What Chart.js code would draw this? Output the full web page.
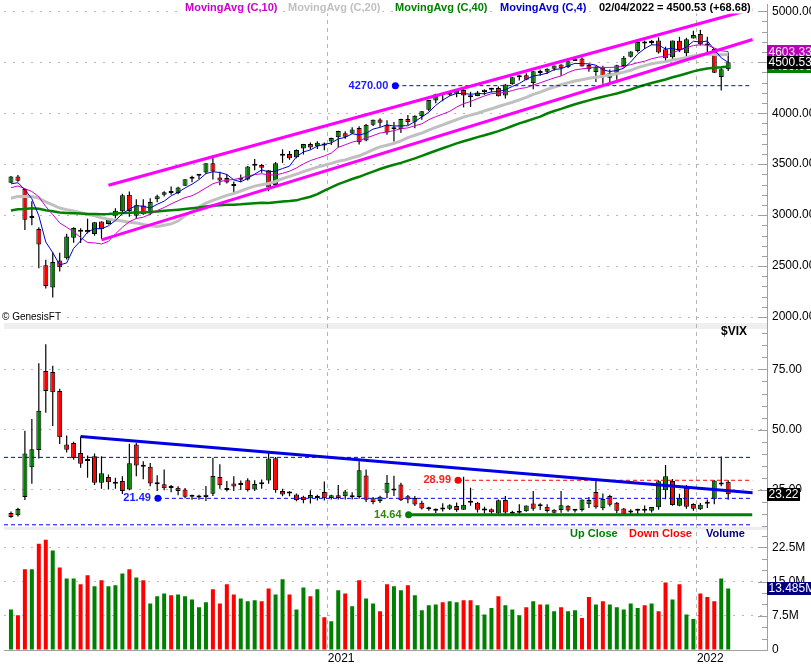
<!DOCTYPE html>
<html>
<head>
<meta charset="utf-8">
<script src="https://cdn.jsdelivr.net/npm/chart.js@4.4.0/dist/chart.umd.min.js"></script>
<style>
  html, body { margin: 0; padding: 0; background: #fff; }
  #wrap { position: relative; width: 811px; height: 664px; }
</style>
</head>
<body>
<div id="wrap"><canvas id="c" width="811" height="664"></canvas></div>
<script>
// weekly bars, week ending 02/14/2020 .. 02/04/2022 (index 0..103)
const spxOpen = [3318,3380,3257,2974,2863,2508,2290,2555,2578,2777,2845,2854,2815,2938,2914,2993,3038,3199,2993,3094,
  3018,3155,3201,3225,3218,3289,3356,3386,3419,3508,3369,3364,3285,3350,3349,3500,3493,3441,3296,3583,
  3600,3567,3653,3698,3675,3684,3723,3764,3803,3801,3855,3731,3886,3939,3886,3842,3844,3942,3916,3969,
  4035,4125,4185,4185,4192,4228,4169,4168,4207,4230,4248,4174,4285,4353,4372,4297,4409,4406,4437,4477,
  4450,4513,4536,4474,4403,4448,4348,4385,4463,4553,4610,4702,4689,4712,4628,4548,4710,4587,4733,4778,
  4664,4632,4356,4432];
const spxHigh = [3385,3393,3260,3137,2882,2563,2637,2632,2818,2880,2871,2965,2933,2939,2968,3068,3211,3233,3155,3155,
  3165,3199,3234,3280,3279,3353,3387,3399,3509,3588,3425,3402,3329,3398,3483,3550,3502,3441,3521,3646,
  3629,3645,3699,3712,3726,3712,3760,3827,3824,3862,3871,3894,3937,3951,3932,3914,3945,3983,3979,4021,
  4130,4192,4194,4218,4238,4236,4210,4218,4234,4249,4262,4287,4356,4372,4393,4415,4429,4442,4469,4481,
  4513,4546,4549,4486,4466,4465,4429,4476,4560,4608,4718,4714,4718,4744,4652,4713,4749,4740,4808,4819,
  4749,4632,4453,4595];
const spxLow = [3315,3328,2855,2902,2478,2281,2192,2447,2566,2728,2727,2820,2798,2767,2908,2970,3026,2984,2966,3004,
  3001,3127,3184,3200,3205,3285,3323,3355,3404,3349,3293,3310,3209,3323,3339,3441,3415,3234,3280,3512,
  3543,3558,3595,3645,3648,3636,3687,3663,3749,3796,3694,3725,3875,3866,3789,3723,3805,3885,3853,3935,
  4020,4098,4118,4170,4157,4057,4061,4167,4180,4204,4164,4144,4278,4321,4322,4234,4367,4385,4417,4367,
  4444,4511,4457,4407,4306,4289,4278,4329,4448,4547,4595,4630,4672,4585,4495,4531,4600,4531,4733,4663,
  4582,4395,4222,4414];
const spxClose = [3380,3338,2954,2972,2711,2305,2541,2489,2790,2875,2837,2831,2930,2864,2955,3044,3194,3041,3098,3009,
  3130,3185,3225,3216,3271,3351,3373,3397,3508,3427,3341,3319,3298,3348,3477,3484,3465,3270,3509,3585,
  3558,3638,3699,3663,3709,3703,3756,3825,3768,3841,3714,3887,3935,3907,3811,3842,3943,3913,3975,4020,
  4129,4185,4180,4181,4233,4174,4156,4204,4230,4247,4166,4281,4352,4370,4327,4412,4395,4437,4468,4442,
  4509,4535,4459,4433,4455,4357,4391,4471,4545,4605,4698,4683,4698,4595,4538,4712,4621,4726,4766,4677,
  4663,4398,4431.85,4500.53];

const ma4 = [3307,3318,3250,3161,2994,2736,2632,2512,2531,2674,2748,2833,2868,2866,2895,2948,3014,3059,3094,3086,
  3070,3106,3137,3189,3224,3266,3303,3348,3407,3426,3418,3399,3346,3327,3361,3402,3444,3424,3432,3457,
  3481,3573,3620,3640,3677,3694,3708,3748,3763,3798,3787,3803,3844,3861,3885,3874,3876,3877,3918,3963,
  4009,4077,4129,4169,4195,4192,4186,4192,4191,4209,4212,4231,4262,4292,4333,4365,4376,4393,4428,4436,
  4464,4489,4486,4484,4471,4426,4409,4419,4441,4503,4580,4633,4671,4669,4629,4636,4617,4649,4706,4698,
  4708,4626,4543,4498.54];
const ma10 = [3269,3286,3259,3232,3180,3084,3005,2924,2881,2836,2781,2731,2728,2717,2742,2816,2881,2936,2967,2980,
  3010,3045,3075,3110,3141,3172,3190,3226,3267,3308,3329,3343,3350,3363,3384,3397,3406,3394,3394,3410,
  3431,3463,3503,3535,3558,3580,3609,3665,3690,3716,3732,3757,3780,3805,3815,3829,3847,3856,3877,3895,
  3936,3966,3991,4018,4060,4093,4115,4144,4169,4192,4196,4205,4222,4241,4251,4275,4298,4322,4346,4365,
  4399,4425,4435,4442,4455,4449,4449,4452,4460,4476,4495,4510,4534,4550,4558,4594,4617,4642,4664,4671,
  4668,4639,4613,4603.33];
const ma20 = [3165,3184,3183,3183,3167,3129,3101,3070,3054,3041,3025,3008,2994,2975,2961,2950,2943,2930,2924,2908,
  2895,2888,2901,2914,2942,2994,3035,3081,3117,3144,3170,3194,3212,3237,3263,3285,3298,3310,3330,3359,
  3380,3403,3427,3449,3471,3489,3508,3529,3542,3563,3582,3610,3642,3670,3686,3704,3728,3760,3784,3805,
  3834,3861,3885,3911,3937,3961,3981,4000,4023,4043,4066,4086,4107,4130,4155,4184,4207,4233,4257,4279,
  4298,4315,4329,4342,4353,4362,4374,4387,4403,4421,4447,4467,4485,4496,4506,4521,4533,4547,4562,4574,
  4581,4575,4573,4576.60];
const ma40 = [3046,3058,3061,3067,3063,3048,3038,3027,3022,3018,3015,3010,3010,3008,3010,3015,3022,3023,3026,3026,
  3030,3036,3042,3048,3054,3061,3068,3075,3085,3092,3097,3101,3103,3106,3112,3117,3121,3120,3127,3133,
  3138,3145,3164,3181,3206,3241,3272,3305,3329,3354,3376,3402,3427,3453,3475,3494,3513,3535,3557,3582,
  3607,3632,3656,3680,3704,3725,3744,3765,3783,3803,3824,3848,3874,3900,3921,3944,3967,3997,4021,4042,
  4066,4088,4107,4126,4145,4161,4177,4193,4213,4232,4257,4276,4296,4313,4331,4353,4370,4390,4410,4426,
  4439,4445,4451,4459.05];

const vixOpen = [15.4,14.5,22.0,34.4,41.6,74.3,73.9,66.0,43.8,44.5, 40.3,37.0,39.0,28.0,30.3,27.6,28.7,25.2,43.8,34.6,
  34.6,27.3,27.3,26.3,25.9,25.2,22.2,21.8,22.0,23.4, 30.3,25.0,27.7,27.0,29.0,25.2,27.3,28.9,38.1,24.5,
  23.5,23.1,22.1,21.5,22.4,24.1,21.6,22.8,22.4,22.8, 22.0,31.0,21.5,20.4,23.8,24.9,27.2,22.4,21.6,19.7,
  17.6,16.8,16.9,17.2,18.3,16.8,19.7,19.7,17.0,17.0, 15.2,20.8,15.9,15.5,16.1,19.3,18.3,18.0,16.8,16.6,
  18.4,16.3,16.6,19.0,24.1,17.4,22.5,19.7,17.3,15.6, 16.3,16.4,16.3,17.8,24.8,28.7,18.4,25.9,19.1,17.0,
  19.3,21.1,27.2,28.4];
const vixHigh = [16.0,17.6,49.5,54.4,77.6,85.5,76.5,67.0,47.6,45.0, 47.2,39.3,40.1,39.0,31.4,30.0,30.7,44.1,44.5,36.9,
  36.2,31.1,33.5,27.0,26.5,25.8,23.0,23.0,26.6,38.3, 35.6,28.7,30.7,28.9,29.8,29.0,29.3,40.3,38.6,25.5,
  24.4,23.5,22.6,24.8,23.0,28.5,23.0,27.0,25.0,24.0, 36.9,33.5,22.0,22.6,31.2,30.9,28.0,22.9,22.5,20.5,
  18.0,17.3,19.4,19.0,19.8,30.5,25.9,20.0,18.0,17.3, 21.0,22.5,16.3,19.0,18.5,24.5,19.5,19.0,17.0,24.5,
  18.6,16.6,21.0,22.0,28.8,23.5,23.0,20.0,17.5,17.0, 17.2,18.5,17.9,29.0,35.3,29.5,23.4,27.0,19.5,19.6,
  21.0,29.0,38.9,29.0];
const vixLow = [13.4,14.0,20.8,27.5,38.0,57.0,51.5,44.0,40.5,37.5, 34.2,30.0,27.0,25.5,25.2,25.5,23.3,24.8,30.7,29.4,
  26.5,24.5,24.8,24.0,22.8,21.5,20.9,20.9,20.4,22.5, 25.5,24.3,24.5,25.0,24.3,24.5,25.5,27.5,23.8,22.4,
  22.4,20.3,19.5,19.3,20.6,20.6,21.0,21.0,21.0,21.0, 21.3,20.0,19.0,19.6,21.5,22.5,20.4,19.4,18.3,16.9,
  16.3,15.4,16.0,16.6,15.9,16.6,18.4,15.6,15.2,15.0, 15.0,14.9,14.9,15.0,15.9,16.3,16.7,15.6,15.2,15.5,
  15.9,15.6,16.0,17.5,17.2,16.5,18.1,15.3,15.0,15.0, 15.0,15.5,15.6,16.8,21.1,18.4,18.2,17.2,16.3,16.6,
  17.5,19.0,26.5,20.9];
const vixClose = [13.7,17.1,40.1,41.9,57.8,66.0,65.5,46.8,41.7,38.2, 35.9,37.2,28.0,31.9,28.2,27.5,24.5,36.1,35.1,34.7,
  27.7,27.3,25.7,25.8,24.5,22.2,22.1,22.5,23.0,30.8, 26.9,25.8,26.4,27.6,25.0,27.4,27.6,38.0,24.9,23.1,
  23.7,20.8,20.8,22.9,21.6,21.5,22.8,21.6,24.3,21.9, 33.1,20.9,20.0,22.1,28.0,24.7,20.7,21.0,18.9,17.3,
  17.0,16.3,17.3,18.6,16.7,18.8,20.2,16.8,16.4,15.7, 20.7,15.6,15.1,16.2,18.5,17.2,18.2,16.2,15.5,18.6,
  16.4,16.4,21.0,20.8,17.8,21.2,18.8,16.3,15.0,16.3, 16.5,16.3,17.9,28.6,30.7,18.7,21.6,18.0,17.2,18.8,
  19.2,28.9,27.7,23.22];

// weekly volume, millions
const volume = [8.9,7.6,17.7,17.7,23.3,24.2,21.8,18.1,15.7,15.7, 14.4,16.4,14.0,15.3,14.0,14.2,16.8,17.7,15.9,15.3,
  10.2,11.8,12.4,12.0,12.2,11.8,11.1,9.4,10.5,13.3, 10.2,14.4,12.2,11.3,10.7,10.9,10.7,13.5,12.2,15.5,
  12.2,8.9,13.7,11.8,13.3,7.2,6.3,13.1,12.4,9.6, 15.3,11.3,10.2,8.5,14.4,14.0,13.1,14.2,12.0,8.7,
  9.8,10.0,10.5,10.7,10.5,10.9,10.9,9.8,7.8,9.2, 11.8,9.8,8.9,7.6,9.4,10.7,10.0,10.0,8.5,9.4,
  8.5,8.7,7.0,11.6,10.0,10.7,10.0,9.4,8.9,10.2, 9.2,9.8,10.2,8.5,14.8,11.1,14.4,7.8,6.8,12.4,
  11.6,10.7,15.7,13.485];

const lastDate = '02/04/2022';
const yearTicks = [45.5, 98.5];
const yearNames = ['2021', '2022'];

const priceTicks = [2000, 2500, 3000, 3500, 4000, 4500, 5000];
const vixTicks = [25, 50, 75];
const volTicks = [0, 7.5, 15, 22.5];

// drawn trend lines: [bar index, value]
const channelHighX = [14.0, 106.5], channelHighY = [3293, 5022];
const channelLowX = [13.0, 106.5], channelLowY = [2757, 4723];
const supportX = [55.2, 106.0], supportY = 4270;
const vixTrendX = [10.0, 106.5], vixTrendY = [47.2, 23.85];
const vixLevels = [38.5, 21.49, 28.99, 14.64, 10.5];
const vixLevelStart = [-1, 21.1, 64.2, 57.1, -1];
const vixLevelEnd = 106.45;

const GREEN = '#008000', RED = '#ff0000';
const FONT = 'Arial, "Liberation Sans", sans-serif';
Chart.defaults.font.family = FONT;

const pts = arr => arr.map((v, i) => ({x: i, y: v}));
const spans = (a, b) => a.map((v, i) => ({x: i, y: [v, b[i]]}));
const candleColors = (o, c) => o.map((v, i) => c[i] > v ? GREEN : (c[i] < v ? RED : '#000'));
const volColors = spxClose.map((c, i) => (i === 0 || c >= spxClose[i - 1]) ? GREEN : RED);

function seg(xs, ys, axis, color, width, dash, dot, order) {
  return {
    type: 'line', yAxisID: axis, order: order,
    data: [{x: xs[0], y: ys[0]}, {x: xs[1], y: ys[1]}],
    borderColor: color, borderWidth: width, borderDash: dash || [],
    pointRadius: dot ? [3.5, 0] : 0, pointBackgroundColor: color, pointBorderWidth: 0
  };
}
function maLine(arr, color, width, order) {
  return { type: 'line', yAxisID: 'yP', order: order, data: pts(arr), borderColor: color,
    borderWidth: width, pointRadius: 0, tension: 0 };
}
function wickSet(lo, hi, axis) {
  return { type: 'bar', yAxisID: axis, order: 9, data: spans(lo, hi), backgroundColor: '#000',
    barThickness: 1.2, grouped: false, inflateAmount: 0 };
}
function bodySet(o, c, axis) {
  return { type: 'bar', yAxisID: axis, order: 8, data: spans(o, c), backgroundColor: candleColors(o, c),
    borderColor: '#000', borderWidth: 1, borderSkipped: false, barThickness: 5, minBarLength: 2,
    grouped: false, inflateAmount: 0 };
}

const datasets = [
  wickSet(spxLow, spxHigh, 'yP'),
  bodySet(spxOpen, spxClose, 'yP'),
  maLine(ma40, GREEN, 2.5, 6),
  maLine(ma20, '#c0c0c0', 3, 7),
  maLine(ma10, '#cc00cc', 1, 5),
  maLine(ma4, '#0000cc', 1, 4),
  seg(channelHighX, channelHighY, 'yP', '#ff00ff', 3, null, false, 1),
  seg(channelLowX, channelLowY, 'yP', '#ff00ff', 3, null, false, 1),
  seg(supportX, [supportY, supportY], 'yP', '#0000ff', 1, [4, 3], true, 2),
  wickSet(vixLow, vixHigh, 'yV'),
  bodySet(vixOpen, vixClose, 'yV'),
  seg(vixTrendX, vixTrendY, 'yV', '#0000e6', 3, null, false, 1),
  seg([vixLevelStart[0], vixLevelEnd], [vixLevels[0], vixLevels[0]], 'yV', '#0000ff', 1, [4, 3], false, 2),
  seg([vixLevelStart[1], vixLevelEnd], [vixLevels[1], vixLevels[1]], 'yV', '#0000ff', 1, [4, 3], true, 2),
  seg([vixLevelStart[2], vixLevelEnd], [vixLevels[2], vixLevels[2]], 'yV', '#ff0000', 1, [4, 3], true, 2),
  seg([vixLevelStart[3], vixLevelEnd], [vixLevels[3], vixLevels[3]], 'yV', GREEN, 3, null, true, 2),
  seg([vixLevelStart[4], vixLevelEnd], [vixLevels[4], vixLevels[4]], 'yV', '#0000ff', 1, [4, 3], false, 2),
  { type: 'bar', yAxisID: 'yVol', order: 3, data: pts(volume), backgroundColor: volColors,
    barThickness: 4, grouped: false, inflateAmount: 0 }
];

function rightAxis(weight, min, max, ticks, fmt) {
  return {
    type: 'linear', position: 'right', stack: 'panels', stackWeight: weight, min: min, max: max,
    afterBuildTicks: s => { s.ticks = ticks.map(v => ({value: v})); },
    afterFit: s => { s.width = 44; s.paddingTop = 0; s.paddingBottom = 0; },
    ticks: { callback: fmt, color: '#000', padding: 5, font: {size: 12}, autoSkip: false },
    grid: { color: c => (c.tick && c.tick.value === 0) ? 'rgba(0,0,0,0)' : '#b8b8b8', drawTicks: false },
    border: { color: '#a0a0a0', dash: [2, 7] }
  };
}

function txt(ctx, s, x, y, color, font, align, bg) {
  ctx.font = font; ctx.textAlign = align || 'left'; ctx.textBaseline = 'middle';
  if (bg) {
    const w = ctx.measureText(s).width;
    const x0 = align === 'right' ? x - w : x;
    ctx.fillStyle = bg; ctx.fillRect(x0 - 2, y - 6, w + 4, 12);
  }
  ctx.fillStyle = color; ctx.fillText(s, x, y);
}

function innerTicks(ctx, scale, major, minor) {
  ctx.strokeStyle = '#a0a0a0'; ctx.lineWidth = 1;
  const k0 = Math.ceil(scale.min / minor), k1 = Math.floor(scale.max / minor);
  const per = Math.round(major / minor);
  for (let k = k0; k <= k1; k++) {
    const y = Math.round(scale.getPixelForValue(k * minor)) + 0.5;
    const len = (k % per === 0) ? 9 : 5;
    ctx.beginPath(); ctx.moveTo(scale.left - len, y); ctx.lineTo(scale.left, y); ctx.stroke();
  }
}

function valueBox(ctx, scale, v, s, bg, fg) {
  const y = scale.getPixelForValue(v);
  ctx.font = '12px ' + FONT;
  const w = ctx.measureText(s).width + 3;
  ctx.fillStyle = bg; ctx.fillRect(scale.left, Math.round(y - 6.5), w, 13);
  ctx.fillStyle = fg; ctx.textAlign = 'left'; ctx.textBaseline = 'middle';
  ctx.fillText(s, scale.left + 1.5, y + 0.5);
}

const decor = {
  id: 'decor',
  beforeDraw(chart) {
    const {ctx, chartArea: a, scales} = chart;
    ctx.save();
    ctx.fillStyle = '#efefef';
    ctx.fillRect(a.left, scales.yP.bottom - 3, a.width, 6);
    ctx.fillStyle = '#ececec';
    ctx.fillRect(a.left, scales.yV.bottom, a.width, 3);
    ctx.restore();
  },
  afterDraw(chart) {
    const {ctx, scales} = chart;
    const {x, yP, yV, yVol} = scales;
    ctx.save();
    innerTicks(ctx, yP, 500, 100);
    innerTicks(ctx, yV, 25, 5);
    innerTicks(ctx, yVol, 7.5, 2.5);

    // legend line
    const n = spxClose.length;
    const chg = spxClose[n - 1] - spxClose[n - 2];
    const head = lastDate + ' = ' + spxClose[n - 1].toFixed(2) + ' (' + (chg >= 0 ? '+' : '') + chg.toFixed(2) + ')';
    const bold11 = 'bold 11px ' + FONT;
    txt(ctx, 'MovingAvg (C,10)', 185, 7.5, '#cc00cc', bold11, 'left', '#fff');
    txt(ctx, 'MovingAvg (C,20)', 288, 7.5, '#c0c0c0', bold11, 'left', '#fff');
    txt(ctx, 'MovingAvg (C,40)', 395, 7.5, GREEN, bold11, 'left', '#fff');
    txt(ctx, 'MovingAvg (C,4)', 500, 7.5, '#0000cc', bold11, 'left', '#fff');
    txt(ctx, head, 599, 7.5, '#000', bold11, 'left', '#fff');
    txt(ctx, '\u00a9 GenesisFT', 2, 317, '#000', '10px ' + FONT, 'left', '#fff');
    txt(ctx, '$VIX', 747, 332, '#000', 'bold 12px ' + FONT, 'right');
    txt(ctx, 'Up Close', 570, 533.5, GREEN, bold11, 'left');
    txt(ctx, 'Down Close', 629, 533.5, RED, bold11, 'left');
    txt(ctx, 'Volume', 706, 533.5, '#000080', bold11, 'left');

    // level labels beside their dots
    const tag = (scale, xv, v, color) =>
      txt(ctx, v.toFixed(2), x.getPixelForValue(xv) - 7, scale.getPixelForValue(v), color, bold11, 'right');
    tag(yP, supportX[0], supportY, '#1a1aff');
    tag(yV, vixLevelStart[1], vixLevels[1], '#1a1aff');
    tag(yV, vixLevelStart[2], vixLevels[2], '#ff2020');
    tag(yV, vixLevelStart[3], vixLevels[3], '#2a8a00');

    // last-value boxes on the right axis
    valueBox(ctx, yP, ma40[n - 1], ma40[n - 1].toFixed(2), GREEN, '#fff');
    valueBox(ctx, yP, ma4[n - 1], ma4[n - 1].toFixed(2), '#0000cc', '#fff');
    valueBox(ctx, yP, ma20[n - 1], ma20[n - 1].toFixed(2), '#c0c0c0', '#fff');
    valueBox(ctx, yP, ma10[n - 1], ma10[n - 1].toFixed(2), '#bb00bb', '#f0f0f0');
    valueBox(ctx, yP, spxClose[n - 1], spxClose[n - 1].toFixed(2), '#000', '#fff');
    valueBox(ctx, yV, vixClose[n - 1], vixClose[n - 1].toFixed(2), '#000', '#fff');
    valueBox(ctx, yVol, volume[n - 1], volume[n - 1].toFixed(3) + 'M', '#000080', '#fff');
    ctx.restore();
  }
};

new Chart(document.getElementById('c'), {
  type: 'bar',
  data: { datasets: datasets },
  options: {
    responsive: false, animation: false, devicePixelRatio: 1,
    layout: { padding: 0 },
    plugins: { legend: { display: false }, tooltip: { enabled: false } },
    scales: {
      x: {
        type: 'linear', position: 'bottom', min: -1, max: 108.57, offset: false,
        afterBuildTicks: s => { s.ticks = yearTicks.map(v => ({value: v})); },
        afterFit: s => { s.height = 14; s.paddingLeft = 0; s.paddingRight = 0; },
        ticks: { callback: v => yearNames[yearTicks.indexOf(v)], align: 'start', color: '#000',
          font: {size: 12}, padding: 1, maxRotation: 0, autoSkip: false },
        grid: { color: '#b4b4b4', drawTicks: false, offset: false },
        border: { color: '#a0a0a0', dash: [4, 4] }
      },
      yP: rightAxis(324, 1912.4, 5071.2, priceTicks, v => v.toFixed(2)),
      yV: rightAxis(202, 9.69, 93.03, vixTicks, v => v.toFixed(2)),
      yVol: rightAxis(124, 0, 27.03, volTicks, v => v === 0 ? '0' : v.toFixed(1) + 'M')
    }
  },
  plugins: [decor]
});
</script>
</body>
</html>
